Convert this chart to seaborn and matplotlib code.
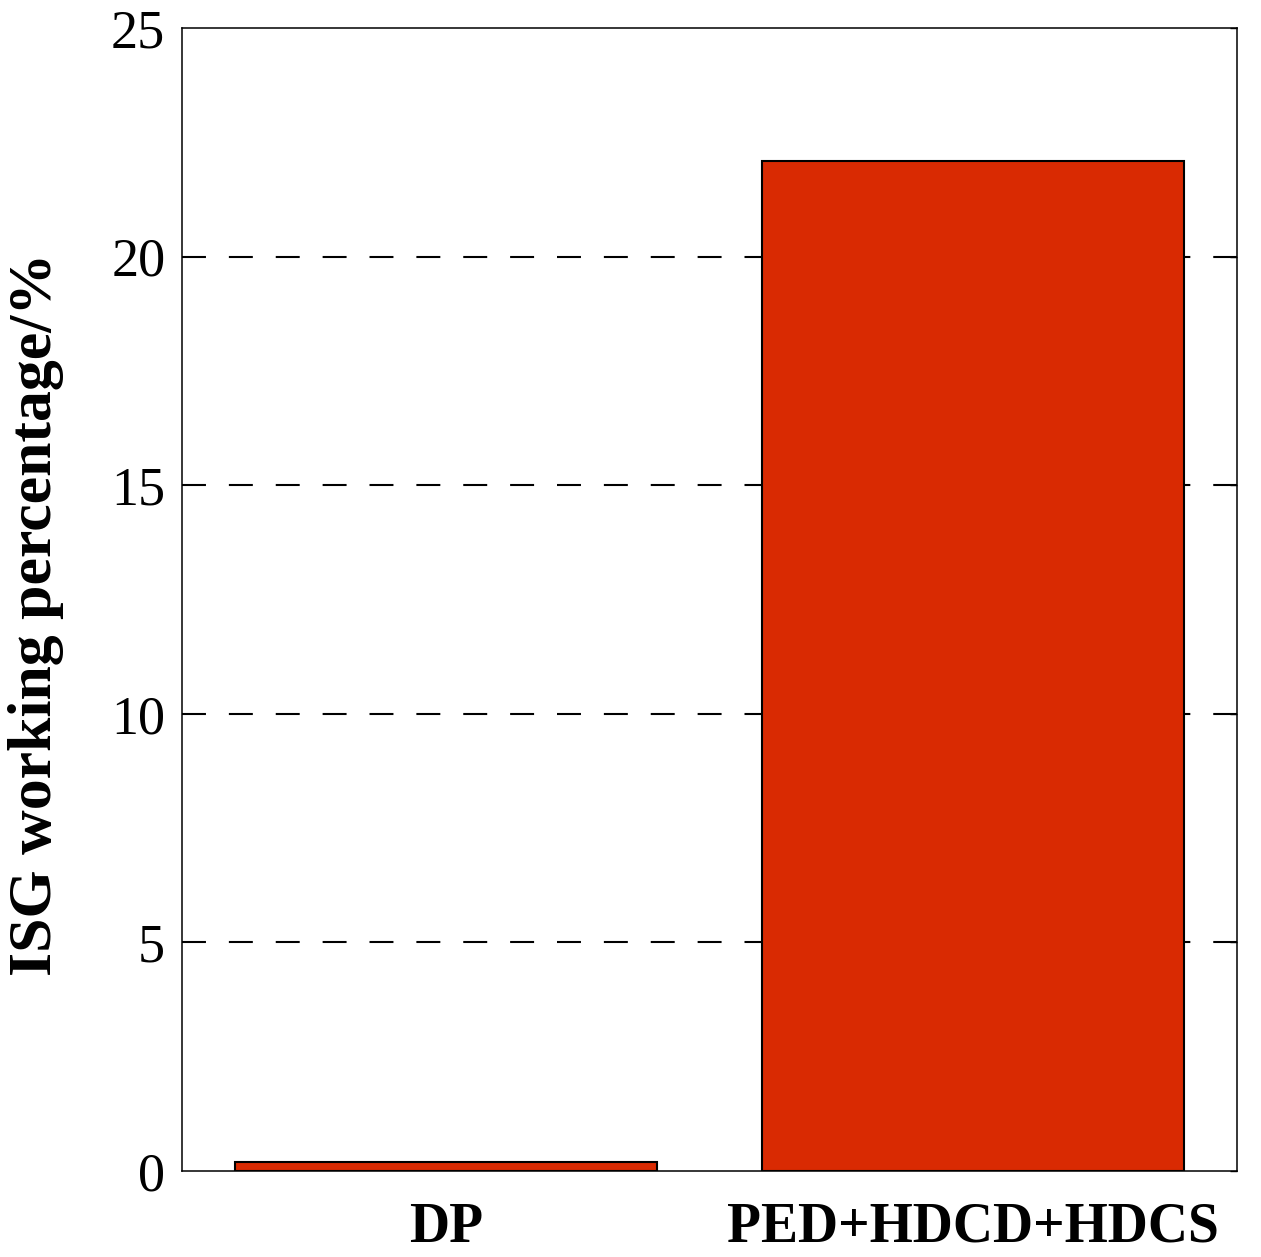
import pandas as pd
import seaborn as sns
import matplotlib.pyplot as plt

# bar values
methods = ["DP", "PED+HDCD+HDCS"]
isg_pct = [0.2, 22.1]
y_ticks = [0, 5, 10, 15, 20, 25]

df = pd.DataFrame({"Method": methods, "ISG": isg_pct})

sns.set_style("white")
plt.rcParams['font.family'] = ['Liberation Serif', 'DejaVu Serif']
plt.rcParams['text.color'] = 'black'
plt.rcParams['axes.labelcolor'] = 'black'
plt.rcParams['xtick.color'] = 'black'
plt.rcParams['ytick.color'] = 'black'

fig = plt.figure(figsize=(12.61, 12.57), dpi=100)
ax = fig.add_axes([0.1443, 0.0684, 0.8366, 0.9093])

sns.barplot(data=df, x="Method", y="ISG", color="#d92a02", saturation=1,
            width=0.8, edgecolor="black", linewidth=1.5, ax=ax, zorder=3)

ax.set_ylim(0, 25)
ax.set_xlim(-0.5, 1.5)
ax.set_yticks(y_ticks)
ax.set_yticklabels([str(t) for t in y_ticks], fontsize=39)
ax.set_xticks(range(len(methods)))
ax.set_xticklabels(methods, fontsize=40, fontweight="bold")
ax.tick_params(axis="y", direction="in", length=5, width=1, pad=12, right=True)
ax.tick_params(axis="x", length=0, pad=22)

for y in y_ticks[1:-1]:
    ax.axhline(y, color="black", lw=1.5, linestyle=(0, (11.5, 11)), zorder=1)

for s in ax.spines.values():
    s.set_visible(True)
    s.set_color("black")
    s.set_linewidth(1.1)

ax.set_xlabel("")
ax.set_ylabel("ISG working percentage/%", fontsize=44.5, fontweight="bold", labelpad=34)
ax.yaxis.label.set_y(0.487)

plt.savefig("out.png", dpi=100)
